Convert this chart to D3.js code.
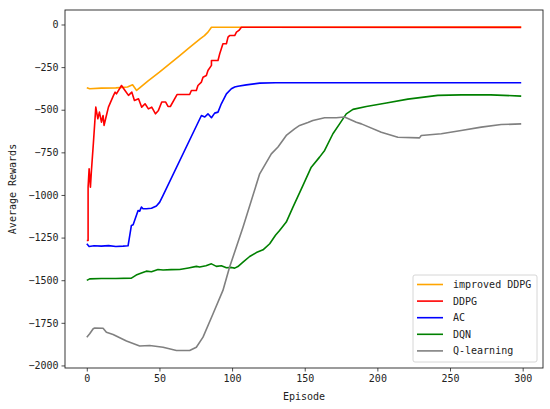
<!DOCTYPE html>
<html>
<head>
<meta charset="utf-8">
<script src="https://cdn.jsdelivr.net/npm/d3@7"></script>
<style>
  body { margin: 0; background: #fff; }
  text { font-family: "DejaVu Sans Mono", monospace; fill: #222; }
</style>
</head>
<body>
<div id="canvas"></div>
<script>
// series: [episode, average reward]
const improvedDDPG = [[0,-371],[2,-377],[10,-373],[20,-372],[28,-367],[31.5,-354],[34.3,-387],[42,-332],[50,-280],[64,-182],[71,-133],[78,-84],[81,-65],[83.4,-45],[85.8,-16],[299,-15]];

const ddpg = [[0,-1267],[0.9,-1267],[0.9,-954],[1.6,-847],[2.5,-954],[3.2,-856],[4.5,-700],[6.2,-485],[7.6,-553],[8.7,-514],[10.1,-573],[11.2,-534],[11.9,-592],[13.5,-534],[14.9,-485],[18.4,-416],[19.5,-397],[20.4,-407],[23.9,-358],[26.3,-387],[28.7,-416],[31,-397],[32.8,-446],[35.6,-436],[37.8,-485],[40.1,-465],[42.4,-495],[44.7,-485],[47.3,-524],[49.3,-504],[51.6,-455],[54.3,-455],[55.9,-481],[57.5,-481],[62.1,-411],[70.8,-411],[72,-387],[75.4,-387],[76.5,-358],[78.9,-338],[80,-309],[82.3,-299],[83.4,-270],[85.8,-240],[85.8,-211],[90.3,-211],[91.5,-172],[92.6,-143],[93.7,-113],[96.1,-113],[97.2,-74],[98.3,-65],[101.8,-65],[103,-45],[104.7,-35],[106.4,-16],[299,-17]];

const ac = [[0,-1286],[1.6,-1302],[5,-1298],[10,-1300],[15,-1297],[20,-1302],[25,-1300],[28.4,-1298],[30.7,-1179],[31.9,-1175],[35.3,-1091],[36.4,-1095],[37.6,-1071],[38.7,-1081],[41,-1081],[44.5,-1078],[47.9,-1065],[50.2,-1042],[52.5,-1003],[78.9,-534],[81.2,-543],[83.4,-524],[85.8,-547],[88,-520],[90.3,-514],[92.6,-465],[96.1,-407],[99.5,-377],[101.8,-367],[104,-362],[109.8,-354],[119,-344],[130,-342],[299,-342]];

const dqn = [[0,-1501],[2,-1492],[10,-1490],[20,-1490],[30.7,-1488],[34,-1470],[37.6,-1458],[41,-1447],[44.5,-1450],[49,-1437],[52.5,-1440],[58,-1438],[63.9,-1437],[70,-1428],[75.4,-1419],[77.7,-1423],[82,-1415],[85.8,-1404],[89.2,-1419],[92.6,-1415],[96.1,-1427],[99.5,-1425],[101.8,-1429],[104,-1420],[107.5,-1394],[112.1,-1361],[116.7,-1338],[121.3,-1322],[125.9,-1286],[130,-1235],[132.7,-1208],[137.3,-1159],[141.9,-1071],[148.8,-944],[154.5,-837],[160.2,-778],[163.7,-739],[169.4,-641],[174,-583],[178.6,-524],[183.2,-498],[192.4,-481],[206.2,-461],[221,-438],[241.6,-416],[257.7,-413],[278,-413],[299,-420]];

const qLearning = [[0,-1834],[2,-1814],[4.4,-1785],[5.5,-1780],[11.2,-1782],[13.5,-1805],[18.1,-1818],[27.3,-1857],[36.4,-1886],[43.3,-1883],[52.5,-1893],[61.7,-1912],[70.8,-1912],[75.4,-1893],[80,-1834],[86.9,-1697],[93.7,-1560],[98.3,-1423],[107.5,-1190],[119,-876],[127,-759],[131.6,-719],[137.3,-651],[143,-612],[146.5,-592],[152.2,-575],[155.6,-563],[163.7,-547],[171.7,-547],[177.4,-543],[185.5,-573],[189,-583],[202.7,-632],[214.1,-661],[229,-665],[230.2,-651],[244,-641],[257.7,-622],[271.5,-602],[285.2,-587],[299,-583]];

const seriesNames = ["improved DDPG", "DDPG", "AC", "DQN", "Q-learning"];
const seriesValues = [improvedDDPG, ddpg, ac, dqn, qLearning];
const seriesColors = ["#ffa500", "#ff0000", "#0000ff", "#008000", "#808080"];

const xTicks = [0, 50, 100, 150, 200, 250, 300];
const yTicks = [0, -250, -500, -750, -1000, -1250, -1500, -1750, -2000];

const width = 550;
const height = 409;
const margin = { top: 10, left: 65, bottom: 41, right: 7 };
const iwidth = width - margin.left - margin.right;
const iheight = height - margin.top - margin.bottom;

const svg = d3.select("#canvas").append("svg")
    .attr("width", width)
    .attr("height", height);

const g = svg.append("g").attr("transform", `translate(${margin.left},${margin.top})`);

const x = d3.scaleLinear()
    .domain([-15, 314])
    .range([0, iwidth]);

const y = d3.scaleLinear()
    .domain([-2015, 85])
    .range([iheight, 0]);

const fmt = d => d < 0 ? "\u2212" + Math.abs(d) : String(d);

// axes
const xAxis = g.append("g")
    .attr("transform", `translate(0, ${iheight})`)
    .call(d3.axisBottom(x).tickValues(xTicks).tickFormat(fmt).tickSize(3.5).tickPadding(3));

const yAxis = g.append("g")
    .call(d3.axisLeft(y).tickValues(yTicks).tickFormat(fmt).tickSize(3.5).tickPadding(3));

[xAxis, yAxis].forEach(a => {
    a.select(".domain").remove();
    a.selectAll("line").attr("stroke", "#222").attr("stroke-width", 0.8);
    a.selectAll("text").style("font-size", "10px").attr("fill", "#222");
});

// lines
const line = d3.line()
    .x(d => x(d[0]))
    .y(d => y(d[1]));

g.selectAll("path.series").data(seriesValues).enter().append("path")
    .attr("class", "series")
    .attr("d", line)
    .attr("fill", "none")
    .attr("stroke", (d, i) => seriesColors[i])
    .attr("stroke-width", 1.6)
    .attr("stroke-linejoin", "round");

// frame
g.append("rect")
    .attr("width", iwidth)
    .attr("height", iheight)
    .attr("fill", "none")
    .attr("stroke", "#222")
    .attr("stroke-width", 0.9);

// axis labels
svg.append("text")
    .attr("x", margin.left + iwidth / 2)
    .attr("y", 400)
    .attr("text-anchor", "middle")
    .style("font-size", "10px")
    .text("Episode");

svg.append("text")
    .attr("transform", `translate(16, ${margin.top + iheight / 2}) rotate(-90)`)
    .attr("text-anchor", "middle")
    .style("font-size", "10px")
    .text("Average Rewards");

// legend
const legend = svg.append("g").attr("transform", "translate(413, 275)");

legend.append("rect")
    .attr("width", 124)
    .attr("height", 87)
    .attr("rx", 2)
    .attr("fill", "#fff")
    .attr("fill-opacity", 0.85)
    .attr("stroke", "#ccc")
    .attr("stroke-width", 0.8);

const rows = legend.selectAll("g.row").data(seriesNames).enter().append("g")
    .attr("class", "row")
    .attr("transform", (d, i) => `translate(0, ${9.5 + i * 16.6})`);

rows.append("line")
    .attr("x1", 4)
    .attr("x2", 30)
    .attr("stroke", (d, i) => seriesColors[i])
    .attr("stroke-width", 1.6);

rows.append("text")
    .attr("x", 40)
    .attr("dy", "0.35em")
    .style("font-size", "10px")
    .text(d => d);
</script>
</body>
</html>
